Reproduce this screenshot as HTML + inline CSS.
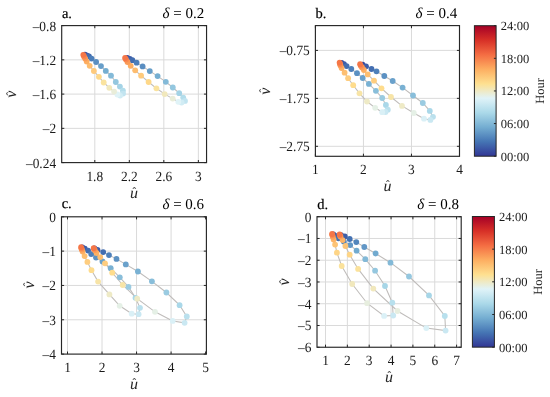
<!DOCTYPE html>
<html><head><meta charset="utf-8"><style>
html,body{margin:0;padding:0;background:#fff;}
svg{display:block;}
text{font-family:"Liberation Serif","Times New Roman",serif;fill:#262626;text-rendering:geometricPrecision;}
.tk{font-size:14.10px;fill:#1a1a1a;}
.dl{font-size:15px;fill:#000;}
.lt{font-size:14.5px;fill:#000;stroke:#000;stroke-width:0.2px;}
.lb{font-size:16px;font-style:italic;}
.hat{font-size:11px;}
.cb{font-size:12.5px;fill:#1a1a1a;}
</style></head><body>
<svg width="550" height="397" viewBox="0 0 550 397">
<rect width="550" height="397" fill="#fff"/>
<defs><linearGradient id="cm" x1="0" y1="1" x2="0" y2="0"><stop offset="0.0000" stop-color="#313695"/><stop offset="0.1111" stop-color="#4575b4"/><stop offset="0.2222" stop-color="#74add1"/><stop offset="0.3333" stop-color="#abd9e9"/><stop offset="0.4444" stop-color="#e0f3f8"/><stop offset="0.5556" stop-color="#fee090"/><stop offset="0.6667" stop-color="#fdae61"/><stop offset="0.7778" stop-color="#f46d43"/><stop offset="0.8889" stop-color="#d73027"/><stop offset="1.0000" stop-color="#a50026"/></linearGradient></defs>
<line x1="94.80" y1="25.60" x2="94.80" y2="162.60" stroke="#dadada" stroke-width="1"/>
<line x1="129.32" y1="25.60" x2="129.32" y2="162.60" stroke="#dadada" stroke-width="1"/>
<line x1="163.84" y1="25.60" x2="163.84" y2="162.60" stroke="#dadada" stroke-width="1"/>
<line x1="198.36" y1="25.60" x2="198.36" y2="162.60" stroke="#dadada" stroke-width="1"/>
<line x1="61.70" y1="59.85" x2="206.55" y2="59.85" stroke="#dadada" stroke-width="1"/>
<line x1="61.70" y1="94.10" x2="206.55" y2="94.10" stroke="#dadada" stroke-width="1"/>
<line x1="61.70" y1="128.35" x2="206.55" y2="128.35" stroke="#dadada" stroke-width="1"/>
<line x1="363.43" y1="25.60" x2="363.43" y2="156.30" stroke="#dadada" stroke-width="1"/>
<line x1="411.46" y1="25.60" x2="411.46" y2="156.30" stroke="#dadada" stroke-width="1"/>
<line x1="315.40" y1="50.40" x2="459.50" y2="50.40" stroke="#dadada" stroke-width="1"/>
<line x1="315.40" y1="98.35" x2="459.50" y2="98.35" stroke="#dadada" stroke-width="1"/>
<line x1="315.40" y1="146.30" x2="459.50" y2="146.30" stroke="#dadada" stroke-width="1"/>
<line x1="67.50" y1="216.80" x2="67.50" y2="354.10" stroke="#dadada" stroke-width="1"/>
<line x1="102.03" y1="216.80" x2="102.03" y2="354.10" stroke="#dadada" stroke-width="1"/>
<line x1="136.56" y1="216.80" x2="136.56" y2="354.10" stroke="#dadada" stroke-width="1"/>
<line x1="171.09" y1="216.80" x2="171.09" y2="354.10" stroke="#dadada" stroke-width="1"/>
<line x1="61.50" y1="251.12" x2="206.40" y2="251.12" stroke="#dadada" stroke-width="1"/>
<line x1="61.50" y1="285.45" x2="206.40" y2="285.45" stroke="#dadada" stroke-width="1"/>
<line x1="61.50" y1="319.78" x2="206.40" y2="319.78" stroke="#dadada" stroke-width="1"/>
<line x1="325.50" y1="216.70" x2="325.50" y2="347.25" stroke="#dadada" stroke-width="1"/>
<line x1="347.35" y1="216.70" x2="347.35" y2="347.25" stroke="#dadada" stroke-width="1"/>
<line x1="369.20" y1="216.70" x2="369.20" y2="347.25" stroke="#dadada" stroke-width="1"/>
<line x1="391.05" y1="216.70" x2="391.05" y2="347.25" stroke="#dadada" stroke-width="1"/>
<line x1="412.90" y1="216.70" x2="412.90" y2="347.25" stroke="#dadada" stroke-width="1"/>
<line x1="434.75" y1="216.70" x2="434.75" y2="347.25" stroke="#dadada" stroke-width="1"/>
<line x1="456.60" y1="216.70" x2="456.60" y2="347.25" stroke="#dadada" stroke-width="1"/>
<line x1="317.00" y1="238.46" x2="461.20" y2="238.46" stroke="#dadada" stroke-width="1"/>
<line x1="317.00" y1="260.22" x2="461.20" y2="260.22" stroke="#dadada" stroke-width="1"/>
<line x1="317.00" y1="281.97" x2="461.20" y2="281.97" stroke="#dadada" stroke-width="1"/>
<line x1="317.00" y1="303.73" x2="461.20" y2="303.73" stroke="#dadada" stroke-width="1"/>
<line x1="317.00" y1="325.49" x2="461.20" y2="325.49" stroke="#dadada" stroke-width="1"/>
<line x1="94.80" y1="162.60" x2="94.80" y2="160.00" stroke="#262626" stroke-width="1"/>
<line x1="94.80" y1="25.60" x2="94.80" y2="28.20" stroke="#262626" stroke-width="1"/>
<text transform="translate(94.80 180.60) scale(0.950 1)" text-anchor="middle" class="tk">1.8</text>
<line x1="129.32" y1="162.60" x2="129.32" y2="160.00" stroke="#262626" stroke-width="1"/>
<line x1="129.32" y1="25.60" x2="129.32" y2="28.20" stroke="#262626" stroke-width="1"/>
<text transform="translate(129.32 180.60) scale(0.950 1)" text-anchor="middle" class="tk">2.2</text>
<line x1="163.84" y1="162.60" x2="163.84" y2="160.00" stroke="#262626" stroke-width="1"/>
<line x1="163.84" y1="25.60" x2="163.84" y2="28.20" stroke="#262626" stroke-width="1"/>
<text transform="translate(163.84 180.60) scale(0.950 1)" text-anchor="middle" class="tk">2.6</text>
<line x1="198.36" y1="162.60" x2="198.36" y2="160.00" stroke="#262626" stroke-width="1"/>
<line x1="198.36" y1="25.60" x2="198.36" y2="28.20" stroke="#262626" stroke-width="1"/>
<text transform="translate(198.36 180.60) scale(0.950 1)" text-anchor="middle" class="tk">3</text>
<line x1="61.70" y1="25.60" x2="64.30" y2="25.60" stroke="#262626" stroke-width="1"/>
<line x1="206.55" y1="25.60" x2="203.95" y2="25.60" stroke="#262626" stroke-width="1"/>
<text transform="translate(56.10 30.50) scale(0.950 1)" text-anchor="end" class="tk">–0.8</text>
<line x1="61.70" y1="59.85" x2="64.30" y2="59.85" stroke="#262626" stroke-width="1"/>
<line x1="206.55" y1="59.85" x2="203.95" y2="59.85" stroke="#262626" stroke-width="1"/>
<text transform="translate(56.10 64.75) scale(0.950 1)" text-anchor="end" class="tk">–1.2</text>
<line x1="61.70" y1="94.10" x2="64.30" y2="94.10" stroke="#262626" stroke-width="1"/>
<line x1="206.55" y1="94.10" x2="203.95" y2="94.10" stroke="#262626" stroke-width="1"/>
<text transform="translate(56.10 99.00) scale(0.950 1)" text-anchor="end" class="tk">–1.6</text>
<line x1="61.70" y1="128.35" x2="64.30" y2="128.35" stroke="#262626" stroke-width="1"/>
<line x1="206.55" y1="128.35" x2="203.95" y2="128.35" stroke="#262626" stroke-width="1"/>
<text transform="translate(56.10 133.25) scale(0.950 1)" text-anchor="end" class="tk">–2</text>
<line x1="61.70" y1="162.60" x2="64.30" y2="162.60" stroke="#262626" stroke-width="1"/>
<line x1="206.55" y1="162.60" x2="203.95" y2="162.60" stroke="#262626" stroke-width="1"/>
<text transform="translate(56.10 167.50) scale(0.950 1)" text-anchor="end" class="tk">–0.24</text>
<rect x="61.70" y="25.60" width="144.85" height="137.00" fill="none" stroke="#262626" stroke-width="1.15"/>
<text x="61.90" y="17.60" class="lt">a.</text>
<text x="204.25" y="17.70" text-anchor="end" class="dl"><tspan font-style="italic">δ</tspan> = 0.2</text>
<line x1="315.40" y1="156.30" x2="315.40" y2="153.70" stroke="#262626" stroke-width="1"/>
<line x1="315.40" y1="25.60" x2="315.40" y2="28.20" stroke="#262626" stroke-width="1"/>
<text transform="translate(315.40 174.30) scale(0.950 1)" text-anchor="middle" class="tk">1</text>
<line x1="363.43" y1="156.30" x2="363.43" y2="153.70" stroke="#262626" stroke-width="1"/>
<line x1="363.43" y1="25.60" x2="363.43" y2="28.20" stroke="#262626" stroke-width="1"/>
<text transform="translate(363.43 174.30) scale(0.950 1)" text-anchor="middle" class="tk">2</text>
<line x1="411.46" y1="156.30" x2="411.46" y2="153.70" stroke="#262626" stroke-width="1"/>
<line x1="411.46" y1="25.60" x2="411.46" y2="28.20" stroke="#262626" stroke-width="1"/>
<text transform="translate(411.46 174.30) scale(0.950 1)" text-anchor="middle" class="tk">3</text>
<line x1="459.49" y1="156.30" x2="459.49" y2="153.70" stroke="#262626" stroke-width="1"/>
<line x1="459.49" y1="25.60" x2="459.49" y2="28.20" stroke="#262626" stroke-width="1"/>
<text transform="translate(459.49 174.30) scale(0.950 1)" text-anchor="middle" class="tk">4</text>
<line x1="315.40" y1="50.40" x2="318.00" y2="50.40" stroke="#262626" stroke-width="1"/>
<line x1="459.50" y1="50.40" x2="456.90" y2="50.40" stroke="#262626" stroke-width="1"/>
<text transform="translate(309.80 55.30) scale(0.950 1)" text-anchor="end" class="tk">–0.75</text>
<line x1="315.40" y1="98.35" x2="318.00" y2="98.35" stroke="#262626" stroke-width="1"/>
<line x1="459.50" y1="98.35" x2="456.90" y2="98.35" stroke="#262626" stroke-width="1"/>
<text transform="translate(309.80 103.25) scale(0.950 1)" text-anchor="end" class="tk">–1.75</text>
<line x1="315.40" y1="146.30" x2="318.00" y2="146.30" stroke="#262626" stroke-width="1"/>
<line x1="459.50" y1="146.30" x2="456.90" y2="146.30" stroke="#262626" stroke-width="1"/>
<text transform="translate(309.80 151.20) scale(0.950 1)" text-anchor="end" class="tk">–2.75</text>
<rect x="315.40" y="25.60" width="144.10" height="130.70" fill="none" stroke="#262626" stroke-width="1.15"/>
<text x="315.60" y="17.60" class="lt">b.</text>
<text x="457.20" y="17.70" text-anchor="end" class="dl"><tspan font-style="italic">δ</tspan> = 0.4</text>
<line x1="67.50" y1="354.10" x2="67.50" y2="351.50" stroke="#262626" stroke-width="1"/>
<line x1="67.50" y1="216.80" x2="67.50" y2="219.40" stroke="#262626" stroke-width="1"/>
<text transform="translate(67.50 372.10) scale(0.950 1)" text-anchor="middle" class="tk">1</text>
<line x1="102.03" y1="354.10" x2="102.03" y2="351.50" stroke="#262626" stroke-width="1"/>
<line x1="102.03" y1="216.80" x2="102.03" y2="219.40" stroke="#262626" stroke-width="1"/>
<text transform="translate(102.03 372.10) scale(0.950 1)" text-anchor="middle" class="tk">2</text>
<line x1="136.56" y1="354.10" x2="136.56" y2="351.50" stroke="#262626" stroke-width="1"/>
<line x1="136.56" y1="216.80" x2="136.56" y2="219.40" stroke="#262626" stroke-width="1"/>
<text transform="translate(136.56 372.10) scale(0.950 1)" text-anchor="middle" class="tk">3</text>
<line x1="171.09" y1="354.10" x2="171.09" y2="351.50" stroke="#262626" stroke-width="1"/>
<line x1="171.09" y1="216.80" x2="171.09" y2="219.40" stroke="#262626" stroke-width="1"/>
<text transform="translate(171.09 372.10) scale(0.950 1)" text-anchor="middle" class="tk">4</text>
<line x1="205.62" y1="354.10" x2="205.62" y2="351.50" stroke="#262626" stroke-width="1"/>
<line x1="205.62" y1="216.80" x2="205.62" y2="219.40" stroke="#262626" stroke-width="1"/>
<text transform="translate(205.62 372.10) scale(0.950 1)" text-anchor="middle" class="tk">5</text>
<line x1="61.50" y1="216.80" x2="64.10" y2="216.80" stroke="#262626" stroke-width="1"/>
<line x1="206.40" y1="216.80" x2="203.80" y2="216.80" stroke="#262626" stroke-width="1"/>
<text transform="translate(55.90 221.70) scale(0.950 1)" text-anchor="end" class="tk">0</text>
<line x1="61.50" y1="251.12" x2="64.10" y2="251.12" stroke="#262626" stroke-width="1"/>
<line x1="206.40" y1="251.12" x2="203.80" y2="251.12" stroke="#262626" stroke-width="1"/>
<text transform="translate(55.90 256.02) scale(0.950 1)" text-anchor="end" class="tk">–1</text>
<line x1="61.50" y1="285.45" x2="64.10" y2="285.45" stroke="#262626" stroke-width="1"/>
<line x1="206.40" y1="285.45" x2="203.80" y2="285.45" stroke="#262626" stroke-width="1"/>
<text transform="translate(55.90 290.35) scale(0.950 1)" text-anchor="end" class="tk">–2</text>
<line x1="61.50" y1="319.78" x2="64.10" y2="319.78" stroke="#262626" stroke-width="1"/>
<line x1="206.40" y1="319.78" x2="203.80" y2="319.78" stroke="#262626" stroke-width="1"/>
<text transform="translate(55.90 324.68) scale(0.950 1)" text-anchor="end" class="tk">–3</text>
<line x1="61.50" y1="354.10" x2="64.10" y2="354.10" stroke="#262626" stroke-width="1"/>
<line x1="206.40" y1="354.10" x2="203.80" y2="354.10" stroke="#262626" stroke-width="1"/>
<text transform="translate(55.90 359.00) scale(0.950 1)" text-anchor="end" class="tk">–4</text>
<rect x="61.50" y="216.80" width="144.90" height="137.30" fill="none" stroke="#262626" stroke-width="1.15"/>
<text x="61.70" y="207.90" class="lt">c.</text>
<text x="204.10" y="208.90" text-anchor="end" class="dl"><tspan font-style="italic">δ</tspan> = 0.6</text>
<line x1="325.50" y1="347.25" x2="325.50" y2="344.65" stroke="#262626" stroke-width="1"/>
<line x1="325.50" y1="216.70" x2="325.50" y2="219.30" stroke="#262626" stroke-width="1"/>
<text transform="translate(325.50 365.25) scale(0.950 1)" text-anchor="middle" class="tk">1</text>
<line x1="347.35" y1="347.25" x2="347.35" y2="344.65" stroke="#262626" stroke-width="1"/>
<line x1="347.35" y1="216.70" x2="347.35" y2="219.30" stroke="#262626" stroke-width="1"/>
<text transform="translate(347.35 365.25) scale(0.950 1)" text-anchor="middle" class="tk">2</text>
<line x1="369.20" y1="347.25" x2="369.20" y2="344.65" stroke="#262626" stroke-width="1"/>
<line x1="369.20" y1="216.70" x2="369.20" y2="219.30" stroke="#262626" stroke-width="1"/>
<text transform="translate(369.20 365.25) scale(0.950 1)" text-anchor="middle" class="tk">3</text>
<line x1="391.05" y1="347.25" x2="391.05" y2="344.65" stroke="#262626" stroke-width="1"/>
<line x1="391.05" y1="216.70" x2="391.05" y2="219.30" stroke="#262626" stroke-width="1"/>
<text transform="translate(391.05 365.25) scale(0.950 1)" text-anchor="middle" class="tk">4</text>
<line x1="412.90" y1="347.25" x2="412.90" y2="344.65" stroke="#262626" stroke-width="1"/>
<line x1="412.90" y1="216.70" x2="412.90" y2="219.30" stroke="#262626" stroke-width="1"/>
<text transform="translate(412.90 365.25) scale(0.950 1)" text-anchor="middle" class="tk">5</text>
<line x1="434.75" y1="347.25" x2="434.75" y2="344.65" stroke="#262626" stroke-width="1"/>
<line x1="434.75" y1="216.70" x2="434.75" y2="219.30" stroke="#262626" stroke-width="1"/>
<text transform="translate(434.75 365.25) scale(0.950 1)" text-anchor="middle" class="tk">6</text>
<line x1="456.60" y1="347.25" x2="456.60" y2="344.65" stroke="#262626" stroke-width="1"/>
<line x1="456.60" y1="216.70" x2="456.60" y2="219.30" stroke="#262626" stroke-width="1"/>
<text transform="translate(456.60 365.25) scale(0.950 1)" text-anchor="middle" class="tk">7</text>
<line x1="317.00" y1="216.70" x2="319.60" y2="216.70" stroke="#262626" stroke-width="1"/>
<line x1="461.20" y1="216.70" x2="458.60" y2="216.70" stroke="#262626" stroke-width="1"/>
<text transform="translate(311.40 221.60) scale(0.950 1)" text-anchor="end" class="tk">0</text>
<line x1="317.00" y1="238.46" x2="319.60" y2="238.46" stroke="#262626" stroke-width="1"/>
<line x1="461.20" y1="238.46" x2="458.60" y2="238.46" stroke="#262626" stroke-width="1"/>
<text transform="translate(311.40 243.36) scale(0.950 1)" text-anchor="end" class="tk">–1</text>
<line x1="317.00" y1="260.22" x2="319.60" y2="260.22" stroke="#262626" stroke-width="1"/>
<line x1="461.20" y1="260.22" x2="458.60" y2="260.22" stroke="#262626" stroke-width="1"/>
<text transform="translate(311.40 265.12) scale(0.950 1)" text-anchor="end" class="tk">–2</text>
<line x1="317.00" y1="281.97" x2="319.60" y2="281.97" stroke="#262626" stroke-width="1"/>
<line x1="461.20" y1="281.97" x2="458.60" y2="281.97" stroke="#262626" stroke-width="1"/>
<text transform="translate(311.40 286.87) scale(0.950 1)" text-anchor="end" class="tk">–3</text>
<line x1="317.00" y1="303.73" x2="319.60" y2="303.73" stroke="#262626" stroke-width="1"/>
<line x1="461.20" y1="303.73" x2="458.60" y2="303.73" stroke="#262626" stroke-width="1"/>
<text transform="translate(311.40 308.63) scale(0.950 1)" text-anchor="end" class="tk">–4</text>
<line x1="317.00" y1="325.49" x2="319.60" y2="325.49" stroke="#262626" stroke-width="1"/>
<line x1="461.20" y1="325.49" x2="458.60" y2="325.49" stroke="#262626" stroke-width="1"/>
<text transform="translate(311.40 330.39) scale(0.950 1)" text-anchor="end" class="tk">–5</text>
<line x1="317.00" y1="347.25" x2="319.60" y2="347.25" stroke="#262626" stroke-width="1"/>
<line x1="461.20" y1="347.25" x2="458.60" y2="347.25" stroke="#262626" stroke-width="1"/>
<text transform="translate(311.40 352.15) scale(0.950 1)" text-anchor="end" class="tk">–6</text>
<rect x="317.00" y="216.70" width="144.20" height="130.55" fill="none" stroke="#262626" stroke-width="1.15"/>
<text x="317.20" y="208.70" class="lt">d.</text>
<text x="458.90" y="208.80" text-anchor="end" class="dl"><tspan font-style="italic">δ</tspan> = 0.8</text>
<polyline points="85.0,54.6 87.2,55.6 89.0,56.3 91.6,58.6 96.1,62.0 101.0,66.1 105.8,70.9 111.0,75.7 115.8,82.0 119.9,86.6 122.9,90.6 123.1,93.6 120.1,95.6 117.4,94.5 114.1,91.6 109.3,87.8 103.7,82.5 98.9,76.8 93.9,71.0 89.7,65.8 86.7,61.6 85.2,58.6 84.0,56.5 83.3,54.8" fill="none" stroke="#bfbcba" stroke-width="1.05"/>
<polyline points="127.2,58.0 129.8,59.0 132.4,60.2 136.6,62.7 142.6,66.4 149.8,71.1 157.6,76.1 165.8,81.8 172.8,87.5 179.2,93.2 183.2,97.6 185.0,100.9 181.6,102.5 178.3,101.8 172.7,98.6 164.7,94.1 156.4,88.3 148.6,82.0 141.1,75.7 135.2,70.3 130.7,65.8 127.5,62.0 126.0,59.5 125.1,58.0" fill="none" stroke="#bfbcba" stroke-width="1.05"/>
<polyline points="341.6,62.8 344.0,64.2 346.6,66.1 351.3,69.0 357.0,73.2 362.7,78.0 368.9,83.9 375.9,90.8 382.2,98.0 385.9,105.0 387.8,109.7 385.5,112.0 382.2,112.2 375.2,107.8 367.0,101.5 359.5,93.3 353.2,85.2 348.1,78.2 344.6,72.7 341.6,68.1 340.5,65.5 340.0,64.0 339.6,62.6" fill="none" stroke="#bfbcba" stroke-width="1.05"/>
<polyline points="362.6,64.6 366.0,66.3 371.5,69.0 376.5,71.3 384.3,76.0 392.7,81.0 402.6,87.6 413.0,95.5 422.8,103.0 429.8,110.9 433.0,116.8 430.4,119.9 424.0,118.7 413.8,113.0 402.0,105.9 391.0,97.0 381.5,88.3 374.0,80.7 367.7,74.4 363.9,70.0 362.0,67.5 360.8,65.8 360.1,64.2" fill="none" stroke="#bfbcba" stroke-width="1.05"/>
<polyline points="82.3,247.3 84.8,248.6 88.1,250.6 91.2,254.1 96.0,257.6 102.5,261.5 110.7,268.2 119.8,277.3 128.5,286.9 135.5,297.8 140.0,307.8 138.6,314.2 131.7,313.7 119.7,305.8 109.4,294.4 98.1,281.6 91.5,270.2 87.4,261.9 84.6,256.1 82.6,251.6 81.8,249.5 81.4,248.3 81.1,247.1" fill="none" stroke="#bfbcba" stroke-width="1.05"/>
<polyline points="94.4,248.4 97.5,250.0 103.2,252.1 109.0,255.1 116.5,258.9 125.8,264.4 137.9,271.5 151.9,281.3 166.4,292.5 179.6,305.2 186.8,316.5 184.6,322.8 172.7,320.9 155.0,311.8 137.2,298.7 122.7,285.0 112.2,272.7 105.0,263.3 100.2,257.1 96.5,253.0 94.8,250.2 93.9,248.7 93.7,248.1" fill="none" stroke="#bfbcba" stroke-width="1.05"/>
<polyline points="333.3,234.5 335.5,235.8 338.5,238.3 343.8,241.6 350.2,245.1 356.6,250.7 365.3,259.2 375.1,270.7 385.0,286.0 392.3,302.7 393.2,315.5 384.1,315.9 367.1,303.2 352.2,284.0 341.7,266.0 336.9,252.7 335.1,244.6 333.6,239.6 332.8,236.8 332.3,235.0 332.1,234.0" fill="none" stroke="#bfbcba" stroke-width="1.05"/>
<polyline points="341.0,235.2 344.8,236.5 349.7,239.0 356.3,242.1 364.3,247.0 375.6,253.5 390.5,262.7 409.0,276.5 429.0,295.4 444.8,316.0 445.6,330.6 426.3,328.1 397.5,311.0 373.3,288.6 358.1,268.9 349.7,254.7 345.4,246.0 342.6,240.1 340.5,236.5 339.9,235.2 339.6,234.5" fill="none" stroke="#bfbcba" stroke-width="1.05"/>
<circle cx="85.0" cy="54.6" r="2.90" fill="#37499e"/>
<circle cx="87.2" cy="55.6" r="2.90" fill="#3d5ba7"/>
<circle cx="89.0" cy="56.3" r="2.90" fill="#426db0"/>
<circle cx="91.6" cy="58.6" r="2.90" fill="#4c7eb9"/>
<circle cx="96.1" cy="62.0" r="2.90" fill="#5a8ec1"/>
<circle cx="101.0" cy="66.1" r="2.90" fill="#679ec9"/>
<circle cx="105.8" cy="70.9" r="2.90" fill="#75aed1"/>
<circle cx="111.0" cy="75.7" r="2.90" fill="#84bad8"/>
<circle cx="115.8" cy="82.0" r="2.90" fill="#94c7df"/>
<circle cx="119.9" cy="86.6" r="2.90" fill="#a4d3e6"/>
<circle cx="122.9" cy="90.6" r="2.90" fill="#b3ddeb"/>
<circle cx="123.1" cy="93.6" r="2.90" fill="#c2e4f0"/>
<circle cx="120.1" cy="95.6" r="2.90" fill="#d1ecf4"/>
<circle cx="117.4" cy="94.5" r="2.90" fill="#e0f3f7"/>
<circle cx="114.1" cy="91.6" r="2.90" fill="#e9edd9"/>
<circle cx="109.3" cy="87.8" r="2.90" fill="#f1e8bc"/>
<circle cx="103.7" cy="82.5" r="2.90" fill="#fae39e"/>
<circle cx="98.9" cy="76.8" r="2.90" fill="#fed889"/>
<circle cx="93.9" cy="71.0" r="2.90" fill="#feca7c"/>
<circle cx="89.7" cy="65.8" r="2.90" fill="#fdbc6e"/>
<circle cx="86.7" cy="61.6" r="2.90" fill="#fdae61"/>
<circle cx="85.2" cy="58.6" r="2.90" fill="#fa9b58"/>
<circle cx="84.0" cy="56.5" r="2.90" fill="#f88850"/>
<circle cx="83.3" cy="54.8" r="2.90" fill="#f57647"/>
<circle cx="127.2" cy="58.0" r="2.90" fill="#37499e"/>
<circle cx="129.8" cy="59.0" r="2.90" fill="#3d5ba7"/>
<circle cx="132.4" cy="60.2" r="2.90" fill="#426db0"/>
<circle cx="136.6" cy="62.7" r="2.90" fill="#4c7eb9"/>
<circle cx="142.6" cy="66.4" r="2.90" fill="#5a8ec1"/>
<circle cx="149.8" cy="71.1" r="2.90" fill="#679ec9"/>
<circle cx="157.6" cy="76.1" r="2.90" fill="#75aed1"/>
<circle cx="165.8" cy="81.8" r="2.90" fill="#84bad8"/>
<circle cx="172.8" cy="87.5" r="2.90" fill="#94c7df"/>
<circle cx="179.2" cy="93.2" r="2.90" fill="#a4d3e6"/>
<circle cx="183.2" cy="97.6" r="2.90" fill="#b3ddeb"/>
<circle cx="185.0" cy="100.9" r="2.90" fill="#c2e4f0"/>
<circle cx="181.6" cy="102.5" r="2.90" fill="#d1ecf4"/>
<circle cx="178.3" cy="101.8" r="2.90" fill="#e0f3f7"/>
<circle cx="172.7" cy="98.6" r="2.90" fill="#e9edd9"/>
<circle cx="164.7" cy="94.1" r="2.90" fill="#f1e8bc"/>
<circle cx="156.4" cy="88.3" r="2.90" fill="#fae39e"/>
<circle cx="148.6" cy="82.0" r="2.90" fill="#fed889"/>
<circle cx="141.1" cy="75.7" r="2.90" fill="#feca7c"/>
<circle cx="135.2" cy="70.3" r="2.90" fill="#fdbc6e"/>
<circle cx="130.7" cy="65.8" r="2.90" fill="#fdae61"/>
<circle cx="127.5" cy="62.0" r="2.90" fill="#fa9b58"/>
<circle cx="126.0" cy="59.5" r="2.90" fill="#f88850"/>
<circle cx="125.1" cy="58.0" r="2.90" fill="#f57647"/>
<circle cx="341.6" cy="62.8" r="2.90" fill="#37499e"/>
<circle cx="344.0" cy="64.2" r="2.90" fill="#3d5ca8"/>
<circle cx="346.6" cy="66.1" r="2.90" fill="#436eb1"/>
<circle cx="351.3" cy="69.0" r="2.90" fill="#4e80ba"/>
<circle cx="357.0" cy="73.2" r="2.90" fill="#5c91c2"/>
<circle cx="362.7" cy="78.0" r="2.90" fill="#6aa1cb"/>
<circle cx="368.9" cy="83.9" r="2.90" fill="#79b1d3"/>
<circle cx="375.9" cy="90.8" r="2.90" fill="#89beda"/>
<circle cx="382.2" cy="98.0" r="2.90" fill="#9acbe1"/>
<circle cx="385.9" cy="105.0" r="2.90" fill="#aad8e9"/>
<circle cx="387.8" cy="109.7" r="2.90" fill="#bae0ed"/>
<circle cx="385.5" cy="112.0" r="2.90" fill="#cae8f2"/>
<circle cx="382.2" cy="112.2" r="2.90" fill="#daf0f6"/>
<circle cx="375.2" cy="107.8" r="2.90" fill="#e5f0e6"/>
<circle cx="367.0" cy="101.5" r="2.90" fill="#eeeac6"/>
<circle cx="359.5" cy="93.3" r="2.90" fill="#f7e4a7"/>
<circle cx="353.2" cy="85.2" r="2.90" fill="#fedc8d"/>
<circle cx="348.1" cy="78.2" r="2.90" fill="#fecd7f"/>
<circle cx="344.6" cy="72.7" r="2.90" fill="#fdbf71"/>
<circle cx="341.6" cy="68.1" r="2.90" fill="#fdb063"/>
<circle cx="340.5" cy="65.5" r="2.90" fill="#fb9d59"/>
<circle cx="340.0" cy="64.0" r="2.90" fill="#f88950"/>
<circle cx="339.6" cy="62.6" r="2.90" fill="#f57647"/>
<circle cx="362.6" cy="64.6" r="2.90" fill="#37499e"/>
<circle cx="366.0" cy="66.3" r="2.90" fill="#3d5ca8"/>
<circle cx="371.5" cy="69.0" r="2.90" fill="#436eb1"/>
<circle cx="376.5" cy="71.3" r="2.90" fill="#4e80ba"/>
<circle cx="384.3" cy="76.0" r="2.90" fill="#5c91c2"/>
<circle cx="392.7" cy="81.0" r="2.90" fill="#6aa1cb"/>
<circle cx="402.6" cy="87.6" r="2.90" fill="#79b1d3"/>
<circle cx="413.0" cy="95.5" r="2.90" fill="#89beda"/>
<circle cx="422.8" cy="103.0" r="2.90" fill="#9acbe1"/>
<circle cx="429.8" cy="110.9" r="2.90" fill="#aad8e9"/>
<circle cx="433.0" cy="116.8" r="2.90" fill="#bae0ed"/>
<circle cx="430.4" cy="119.9" r="2.90" fill="#cae8f2"/>
<circle cx="424.0" cy="118.7" r="2.90" fill="#daf0f6"/>
<circle cx="413.8" cy="113.0" r="2.90" fill="#e5f0e6"/>
<circle cx="402.0" cy="105.9" r="2.90" fill="#eeeac6"/>
<circle cx="391.0" cy="97.0" r="2.90" fill="#f7e4a7"/>
<circle cx="381.5" cy="88.3" r="2.90" fill="#fedc8d"/>
<circle cx="374.0" cy="80.7" r="2.90" fill="#fecd7f"/>
<circle cx="367.7" cy="74.4" r="2.90" fill="#fdbf71"/>
<circle cx="363.9" cy="70.0" r="2.90" fill="#fdb063"/>
<circle cx="362.0" cy="67.5" r="2.90" fill="#fb9d59"/>
<circle cx="360.8" cy="65.8" r="2.90" fill="#f88950"/>
<circle cx="360.1" cy="64.2" r="2.90" fill="#f57647"/>
<circle cx="82.3" cy="247.3" r="2.90" fill="#37499e"/>
<circle cx="84.8" cy="248.6" r="2.90" fill="#3d5ca8"/>
<circle cx="88.1" cy="250.6" r="2.90" fill="#436eb1"/>
<circle cx="91.2" cy="254.1" r="2.90" fill="#4e80ba"/>
<circle cx="96.0" cy="257.6" r="2.90" fill="#5c91c2"/>
<circle cx="102.5" cy="261.5" r="2.90" fill="#6aa1cb"/>
<circle cx="110.7" cy="268.2" r="2.90" fill="#79b1d3"/>
<circle cx="119.8" cy="277.3" r="2.90" fill="#89beda"/>
<circle cx="128.5" cy="286.9" r="2.90" fill="#9acbe1"/>
<circle cx="135.5" cy="297.8" r="2.90" fill="#aad8e9"/>
<circle cx="140.0" cy="307.8" r="2.90" fill="#bae0ed"/>
<circle cx="138.6" cy="314.2" r="2.90" fill="#cae8f2"/>
<circle cx="131.7" cy="313.7" r="2.90" fill="#daf0f6"/>
<circle cx="119.7" cy="305.8" r="2.90" fill="#e5f0e6"/>
<circle cx="109.4" cy="294.4" r="2.90" fill="#eeeac6"/>
<circle cx="98.1" cy="281.6" r="2.90" fill="#f7e4a7"/>
<circle cx="91.5" cy="270.2" r="2.90" fill="#fedc8d"/>
<circle cx="87.4" cy="261.9" r="2.90" fill="#fecd7f"/>
<circle cx="84.6" cy="256.1" r="2.90" fill="#fdbf71"/>
<circle cx="82.6" cy="251.6" r="2.90" fill="#fdb063"/>
<circle cx="81.8" cy="249.5" r="2.90" fill="#fb9d59"/>
<circle cx="81.4" cy="248.3" r="2.90" fill="#f88950"/>
<circle cx="81.1" cy="247.1" r="2.90" fill="#f57647"/>
<circle cx="94.4" cy="248.4" r="2.90" fill="#37499e"/>
<circle cx="97.5" cy="250.0" r="2.90" fill="#3d5ca8"/>
<circle cx="103.2" cy="252.1" r="2.90" fill="#436eb1"/>
<circle cx="109.0" cy="255.1" r="2.90" fill="#4e80ba"/>
<circle cx="116.5" cy="258.9" r="2.90" fill="#5c91c2"/>
<circle cx="125.8" cy="264.4" r="2.90" fill="#6aa1cb"/>
<circle cx="137.9" cy="271.5" r="2.90" fill="#79b1d3"/>
<circle cx="151.9" cy="281.3" r="2.90" fill="#89beda"/>
<circle cx="166.4" cy="292.5" r="2.90" fill="#9acbe1"/>
<circle cx="179.6" cy="305.2" r="2.90" fill="#aad8e9"/>
<circle cx="186.8" cy="316.5" r="2.90" fill="#bae0ed"/>
<circle cx="184.6" cy="322.8" r="2.90" fill="#cae8f2"/>
<circle cx="172.7" cy="320.9" r="2.90" fill="#daf0f6"/>
<circle cx="155.0" cy="311.8" r="2.90" fill="#e5f0e6"/>
<circle cx="137.2" cy="298.7" r="2.90" fill="#eeeac6"/>
<circle cx="122.7" cy="285.0" r="2.90" fill="#f7e4a7"/>
<circle cx="112.2" cy="272.7" r="2.90" fill="#fedc8d"/>
<circle cx="105.0" cy="263.3" r="2.90" fill="#fecd7f"/>
<circle cx="100.2" cy="257.1" r="2.90" fill="#fdbf71"/>
<circle cx="96.5" cy="253.0" r="2.90" fill="#fdb063"/>
<circle cx="94.8" cy="250.2" r="2.90" fill="#fb9d59"/>
<circle cx="93.9" cy="248.7" r="2.90" fill="#f88950"/>
<circle cx="93.7" cy="248.1" r="2.90" fill="#f57647"/>
<circle cx="333.3" cy="234.5" r="2.90" fill="#37499e"/>
<circle cx="335.5" cy="235.8" r="2.90" fill="#3e5ea8"/>
<circle cx="338.5" cy="238.3" r="2.90" fill="#4472b3"/>
<circle cx="343.8" cy="241.6" r="2.90" fill="#5285bc"/>
<circle cx="350.2" cy="245.1" r="2.90" fill="#6297c6"/>
<circle cx="356.6" cy="250.7" r="2.90" fill="#71aacf"/>
<circle cx="365.3" cy="259.2" r="2.90" fill="#83b9d7"/>
<circle cx="375.1" cy="270.7" r="2.90" fill="#95c7df"/>
<circle cx="385.0" cy="286.0" r="2.90" fill="#a7d6e7"/>
<circle cx="392.3" cy="302.7" r="2.90" fill="#b8e0ed"/>
<circle cx="393.2" cy="315.5" r="2.90" fill="#cae8f2"/>
<circle cx="384.1" cy="315.9" r="2.90" fill="#dbf1f7"/>
<circle cx="367.1" cy="303.2" r="2.90" fill="#e7eedf"/>
<circle cx="352.2" cy="284.0" r="2.90" fill="#f1e8bd"/>
<circle cx="341.7" cy="266.0" r="2.90" fill="#fbe29b"/>
<circle cx="336.9" cy="252.7" r="2.90" fill="#fed586"/>
<circle cx="335.1" cy="244.6" r="2.90" fill="#fdc476"/>
<circle cx="333.6" cy="239.6" r="2.90" fill="#fdb467"/>
<circle cx="332.8" cy="236.8" r="2.90" fill="#fba15b"/>
<circle cx="332.3" cy="235.0" r="2.90" fill="#f88b51"/>
<circle cx="332.1" cy="234.0" r="2.90" fill="#f57647"/>
<circle cx="341.0" cy="235.2" r="2.90" fill="#37499e"/>
<circle cx="344.8" cy="236.5" r="2.90" fill="#3e5ea8"/>
<circle cx="349.7" cy="239.0" r="2.90" fill="#4472b3"/>
<circle cx="356.3" cy="242.1" r="2.90" fill="#5285bc"/>
<circle cx="364.3" cy="247.0" r="2.90" fill="#6297c6"/>
<circle cx="375.6" cy="253.5" r="2.90" fill="#71aacf"/>
<circle cx="390.5" cy="262.7" r="2.90" fill="#83b9d7"/>
<circle cx="409.0" cy="276.5" r="2.90" fill="#95c7df"/>
<circle cx="429.0" cy="295.4" r="2.90" fill="#a7d6e7"/>
<circle cx="444.8" cy="316.0" r="2.90" fill="#b8e0ed"/>
<circle cx="445.6" cy="330.6" r="2.90" fill="#cae8f2"/>
<circle cx="426.3" cy="328.1" r="2.90" fill="#dbf1f7"/>
<circle cx="397.5" cy="311.0" r="2.90" fill="#e7eedf"/>
<circle cx="373.3" cy="288.6" r="2.90" fill="#f1e8bd"/>
<circle cx="358.1" cy="268.9" r="2.90" fill="#fbe29b"/>
<circle cx="349.7" cy="254.7" r="2.90" fill="#fed586"/>
<circle cx="345.4" cy="246.0" r="2.90" fill="#fdc476"/>
<circle cx="342.6" cy="240.1" r="2.90" fill="#fdb467"/>
<circle cx="340.5" cy="236.5" r="2.90" fill="#fba15b"/>
<circle cx="339.9" cy="235.2" r="2.90" fill="#f88b51"/>
<circle cx="339.6" cy="234.5" r="2.90" fill="#f57647"/>
<g transform="translate(134.00 197.60)"><text x="0" y="0" text-anchor="middle" class="lb">u</text><text x="0.4" y="-2.60" text-anchor="middle" class="hat">ˆ</text></g>
<g transform="translate(387.50 191.00)"><text x="0" y="0" text-anchor="middle" class="lb">u</text><text x="0.4" y="-2.60" text-anchor="middle" class="hat">ˆ</text></g>
<g transform="translate(134.00 389.00)"><text x="0" y="0" text-anchor="middle" class="lb">u</text><text x="0.4" y="-2.60" text-anchor="middle" class="hat">ˆ</text></g>
<g transform="translate(389.00 382.00)"><text x="0" y="0" text-anchor="middle" class="lb">u</text><text x="0.4" y="-2.60" text-anchor="middle" class="hat">ˆ</text></g>
<g transform="translate(16.20 94.20) rotate(-90)"><text x="0" y="0" text-anchor="middle" class="lb">v</text><text x="0.4" y="-2.60" text-anchor="middle" class="hat">ˆ</text></g>
<g transform="translate(269.90 91.10) rotate(-90)"><text x="0" y="0" text-anchor="middle" class="lb">v</text><text x="0.4" y="-2.60" text-anchor="middle" class="hat">ˆ</text></g>
<g transform="translate(33.50 284.90) rotate(-90)"><text x="0" y="0" text-anchor="middle" class="lb">v</text><text x="0.4" y="-2.60" text-anchor="middle" class="hat">ˆ</text></g>
<g transform="translate(289.20 282.00) rotate(-90)"><text x="0" y="0" text-anchor="middle" class="lb">v</text><text x="0.4" y="-2.60" text-anchor="middle" class="hat">ˆ</text></g>
<rect x="474.40" y="25.70" width="21.70" height="130.50" fill="url(#cm)" stroke="#262626" stroke-width="1"/>
<line x1="496.10" y1="156.20" x2="493.90" y2="156.20" stroke="#262626" stroke-width="1"/>
<text x="500.70" y="160.60" class="cb">00:00</text>
<line x1="496.10" y1="123.57" x2="493.90" y2="123.57" stroke="#262626" stroke-width="1"/>
<text x="500.70" y="127.97" class="cb">06:00</text>
<line x1="496.10" y1="90.95" x2="493.90" y2="90.95" stroke="#262626" stroke-width="1"/>
<text x="500.70" y="95.35" class="cb">12:00</text>
<line x1="496.10" y1="58.32" x2="493.90" y2="58.32" stroke="#262626" stroke-width="1"/>
<text x="500.70" y="62.72" class="cb">18:00</text>
<line x1="496.10" y1="25.70" x2="493.90" y2="25.70" stroke="#262626" stroke-width="1"/>
<text x="500.70" y="30.10" class="cb">24:00</text>
<text transform="translate(544.10 90.95) rotate(-90)" x="0" y="0" text-anchor="middle" class="cb">Hour</text>
<rect x="472.40" y="216.50" width="22.00" height="130.65" fill="url(#cm)" stroke="#262626" stroke-width="1"/>
<line x1="494.40" y1="347.15" x2="492.20" y2="347.15" stroke="#262626" stroke-width="1"/>
<text x="499.00" y="351.55" class="cb">00:00</text>
<line x1="494.40" y1="314.49" x2="492.20" y2="314.49" stroke="#262626" stroke-width="1"/>
<text x="499.00" y="318.89" class="cb">06:00</text>
<line x1="494.40" y1="281.82" x2="492.20" y2="281.82" stroke="#262626" stroke-width="1"/>
<text x="499.00" y="286.22" class="cb">12:00</text>
<line x1="494.40" y1="249.16" x2="492.20" y2="249.16" stroke="#262626" stroke-width="1"/>
<text x="499.00" y="253.56" class="cb">18:00</text>
<line x1="494.40" y1="216.50" x2="492.20" y2="216.50" stroke="#262626" stroke-width="1"/>
<text x="499.00" y="220.90" class="cb">24:00</text>
<text transform="translate(542.40 281.82) rotate(-90)" x="0" y="0" text-anchor="middle" class="cb">Hour</text>
</svg></body></html>
